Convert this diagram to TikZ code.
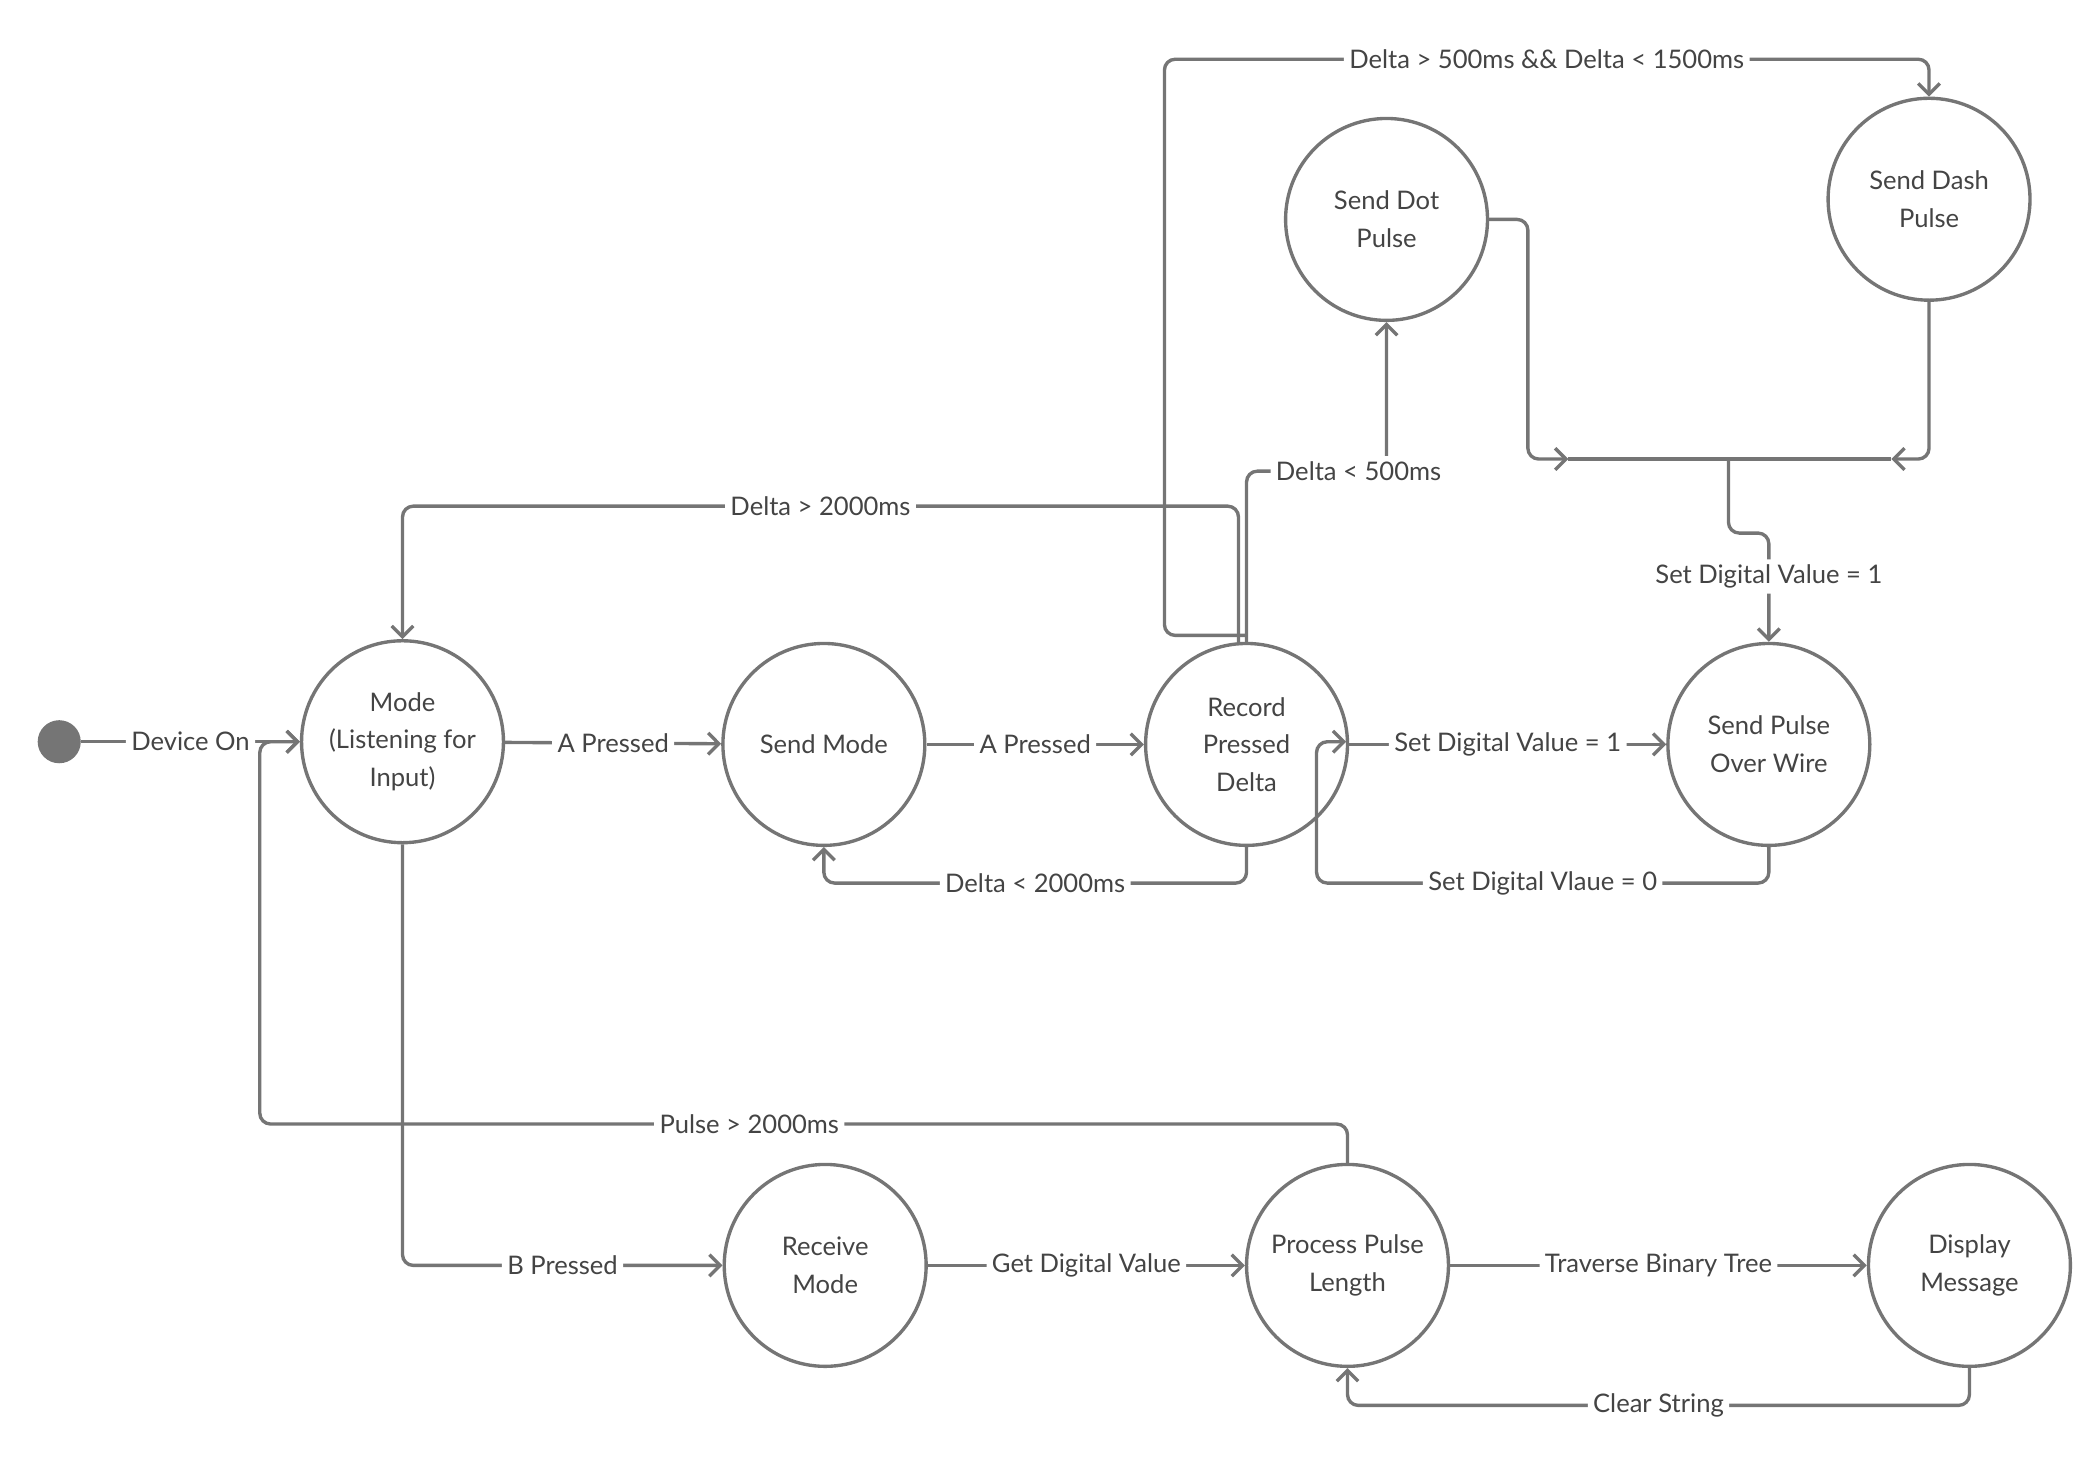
\documentclass[tikz,border=0pt]{standalone}
\usepackage{fontspec}
\setmainfont{Lato}
\usetikzlibrary{arrows.meta}
\definecolor{g}{HTML}{757575}
\definecolor{t}{HTML}{444444}
\begin{document}
\begin{tikzpicture}[x=1pt,y=-1pt,
 st/.style={circle,draw=g,line width=2.5pt,minimum size=150pt,inner sep=0pt,align=center,font=\fontsize{19}{28}\selectfont,text=t},
 ar/.style={draw=g,line width=2.5pt,rounded corners=8pt,-{Straight Barb[length=8pt,width=16pt]}},
 ln/.style={draw=g,line width=2.5pt,rounded corners=8pt},
 lb/.style={fill=white,inner sep=4pt,font=\fontsize{19}{22}\selectfont,text=t}]
\useasboundingbox (0,0) rectangle (1560,1083);
\node[circle,fill=g,minimum size=32pt,inner sep=0pt] (s) at (44,551) {};
\node[st] (mode) at (299,551) {Mode\\(Listening for\\Input)};
\node[st] (send) at (612,553) {Send Mode};
\node[st] (rec) at (926,553) {Record\\Pressed\\Delta};
\node[st] (pulse) at (1314,553) {Send Pulse\\Over Wire};
\node[st] (dot) at (1030,163) {Send Dot\\Pulse};
\node[st] (dash) at (1433,148) {Send Dash\\Pulse};
\node[st] (rcv) at (613,940) {Receive\\Mode};
\node[st] (proc) at (1001,940) {Process Pulse\\Length};
\node[st] (disp) at (1463,940) {Display\\Message};
\coordinate (m1) at (1165,341);
\coordinate (m2) at (1405,341);

\draw[ar] (s) -- node[lb]{Device On} (mode.west);
\draw[ar] (mode) -- node[lb]{A Pressed} (send);
\draw[ar] (send) -- node[lb]{A Pressed} (rec);
\draw[ar] (rec.south) -- (926,656) -- node[lb]{Delta < 2000ms} (612,656) -- (send.south);
\draw[ar] (920,478) -- (920,376) -- node[lb]{Delta > 2000ms} (299,376) -- (mode.north);
\draw[ar] (926,478) -- (926,350) -- node[lb,pos=0.8]{Delta < 500ms} (1030,350) -- (dot.south);
\draw[ar] (926,472) -- (865,472) -- (865,44) -- node[lb]{Delta > 500ms \&\& Delta < 1500ms} (1433,44) -- (dash.north);
\draw[ar] (dot.east) -- (1135,163) -- (1135,341) -- (m1);
\draw[ar] (dash.south) -- (1433,341) -- (m2);
\draw[ln] (m1) -- (m2);
\draw[ar] (1284,341) -- (1284,396) -- (1314,396) -- node[lb,pos=0.4]{Set Digital Value = 1} (pulse.north);
\draw[ar] (rec.east) -- node[lb]{Set Digital Value = 1} (pulse.west);
\draw[ar] (pulse.south) -- (1314,656) -- node[lb]{Set Digital Vlaue = 0} (978,656) -- (978,551) -- (1000,551);
\draw[ar] (mode.south) -- (299,940) -- node[lb]{B Pressed} (rcv.west);
\draw[ar] (proc.north) -- (1001,835) -- node[lb,pos=0.55]{Pulse > 2000ms} (193,835) -- (193,551) -- (mode.west);
\draw[ar] (rcv) -- node[lb]{Get Digital Value} (proc);
\draw[ar] (proc) -- node[lb]{Traverse Binary Tree} (disp);
\draw[ar] (disp.south) -- (1463,1044) -- node[lb]{Clear String} (1001,1044) -- (proc.south);
\end{tikzpicture}
\end{document}
